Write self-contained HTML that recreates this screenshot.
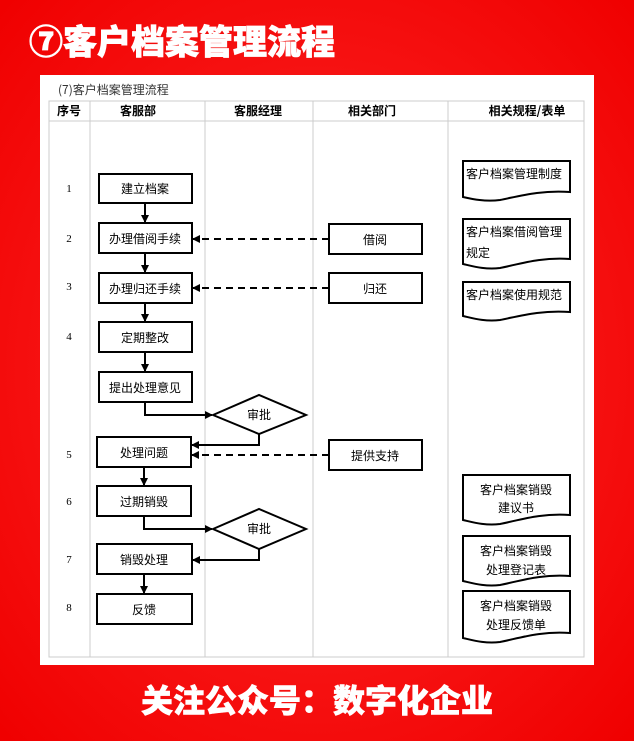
<!DOCTYPE html>
<html><head><meta charset="utf-8"><style>
body{margin:0;width:634px;height:741px;overflow:hidden;background:#f40000;font-family:"Liberation Sans","Noto Sans CJK SC",sans-serif;}
</style></head><body>
<svg width="634" height="741" xmlns="http://www.w3.org/2000/svg" style="position:absolute;left:0;top:0">
<defs>
<radialGradient id="bg" cx="50%" cy="50%" r="70%"><stop offset="0" stop-color="#ff2a2a"/><stop offset="1" stop-color="#f00000"/></radialGradient>
<marker id="ar" markerWidth="8" markerHeight="8" refX="7" refY="4" orient="auto" markerUnits="userSpaceOnUse"><path d="M0,0 L8,4 L0,8 z" fill="#000"/></marker>
</defs>
<rect width="634" height="741" fill="url(#bg)"/>
<text x="29" y="54" font-size="34" font-weight="900" fill="#fff" stroke="#fff" stroke-width="0.8" font-family="Noto Sans CJK SC, sans-serif">⑦客户档案管理流程</text>
<rect x="40" y="75" width="554" height="590" fill="#fff"/>
<text x="58" y="94" font-size="12" fill="#333" font-family="Noto Sans CJK SC, sans-serif">(7)客户档案管理流程</text>
<g stroke="#ccc" stroke-width="1" fill="none">
<rect x="49" y="101" width="535" height="556"/>
<line x1="49" y1="121" x2="584" y2="121"/>
<line x1="90" y1="101" x2="90" y2="657"/>
<line x1="205" y1="101" x2="205" y2="657"/>
<line x1="313" y1="101" x2="313" y2="657"/>
<line x1="448" y1="101" x2="448" y2="657"/>
</g>
<g font-size="12" font-weight="bold" text-anchor="middle" font-family="Noto Sans CJK SC, sans-serif">
<text x="69" y="115">序号</text><text x="138" y="115">客服部</text><text x="258" y="115">客服经理</text><text x="372" y="115">相关部门</text><text x="527" y="115">相关规程/表单</text>
</g>
<g font-size="11" text-anchor="middle" font-family="Liberation Serif,serif">
<text x="69" y="192">1</text><text x="69" y="242">2</text><text x="69" y="290">3</text><text x="69" y="340">4</text><text x="69" y="458">5</text><text x="69" y="505">6</text><text x="69" y="563">7</text><text x="69" y="611">8</text>
</g>
<g stroke="#000" stroke-width="2" fill="#fff">
<rect x="99" y="174" width="93" height="29"/>
<rect x="99" y="223" width="93" height="30"/>
<rect x="99" y="273" width="93" height="30"/>
<rect x="99" y="322" width="93" height="30"/>
<rect x="99" y="372" width="93" height="30"/>
<rect x="97" y="437" width="94" height="30"/>
<rect x="97" y="486" width="94" height="30"/>
<rect x="97" y="544" width="95" height="30"/>
<rect x="97" y="594" width="95" height="30"/>
<rect x="329" y="224" width="93" height="30"/>
<rect x="329" y="273" width="93" height="30"/>
<rect x="329" y="440" width="93" height="30"/>
<polygon points="213,415 259,395 306,415 259,434"/>
<polygon points="213,529 259,509 306,529 259,549"/>
</g>
<g stroke="#000" stroke-width="2" fill="none">
<line x1="145" y1="203" x2="145" y2="222" marker-end="url(#ar)"/>
<line x1="145" y1="253" x2="145" y2="272" marker-end="url(#ar)"/>
<line x1="145" y1="303" x2="145" y2="321" marker-end="url(#ar)"/>
<line x1="145" y1="352" x2="145" y2="371" marker-end="url(#ar)"/>
<line x1="144" y1="467" x2="144" y2="485" marker-end="url(#ar)"/>
<line x1="144" y1="574" x2="144" y2="593" marker-end="url(#ar)"/>
<polyline points="145,402 145,415 212,415" marker-end="url(#ar)"/>
<polyline points="259,434 259,445 192,445" marker-end="url(#ar)"/>
<polyline points="144,516 144,529 212,529" marker-end="url(#ar)"/>
<polyline points="259,549 259,560 193,560" marker-end="url(#ar)"/>
<g stroke-dasharray="7,5">
<line x1="329" y1="239" x2="193" y2="239" marker-end="url(#ar)"/>
<line x1="329" y1="288" x2="193" y2="288" marker-end="url(#ar)"/>
<line x1="329" y1="455" x2="192" y2="455" marker-end="url(#ar)"/>
</g>
</g>
<g stroke="#000" stroke-width="2" fill="#fff">
<path d="M463,161 H570 V192 C540,190 520,196 500,200 C485,202 472,199 463,197 Z"/>
<path d="M463,219 H570 V259 C540,257 520,264 500,268 C485,270 472,266 463,264 Z"/>
<path d="M463,282 H570 V312 C540,310 520,316 500,320 C485,322 472,318 463,316 Z"/>
<path d="M463,475 H570 V515 C540,513 520,520 500,524 C485,526 472,522 463,520 Z"/>
<path d="M463,536 H570 V576 C540,574 520,581 500,585 C485,587 472,583 463,581 Z"/>
<path d="M463,591 H570 V633 C540,631 520,638 500,642 C485,644 472,640 463,638 Z"/>
</g>
<g font-size="12" text-anchor="middle" font-family="Noto Sans CJK SC, sans-serif" fill="#000">
<text x="145" y="193">建立档案</text>
<text x="145" y="243">办理借阅手续</text>
<text x="145" y="293">办理归还手续</text>
<text x="145" y="342">定期整改</text>
<text x="145" y="392">提出处理意见</text>
<text x="144" y="457">处理问题</text>
<text x="144" y="506">过期销毁</text>
<text x="144" y="564">销毁处理</text>
<text x="144" y="614">反馈</text>
<text x="375" y="244">借阅</text>
<text x="375" y="293">归还</text>
<text x="375" y="460">提供支持</text>
<text x="259" y="419">审批</text>
<text x="259" y="533">审批</text>
<text x="516" y="494">客户档案销毁</text><text x="516" y="512">建议书</text>
<text x="516" y="555">客户档案销毁</text><text x="516" y="574">处理登记表</text>
<text x="516" y="610">客户档案销毁</text><text x="516" y="629">处理反馈单</text>
</g>
<g font-size="12" font-family="Noto Sans CJK SC, sans-serif" fill="#000">
<text x="466" y="178">客户档案管理制度</text>
<text x="466" y="236">客户档案借阅管理</text><text x="466" y="257">规定</text>
<text x="466" y="299">客户档案使用规范</text>
</g>
<text x="317" y="712" font-size="32" font-weight="900" fill="#fff" stroke="#fff" stroke-width="0.6" text-anchor="middle" font-family="Noto Sans CJK SC, sans-serif">关注公众号：数字化企业</text>
</svg>
</body></html>
